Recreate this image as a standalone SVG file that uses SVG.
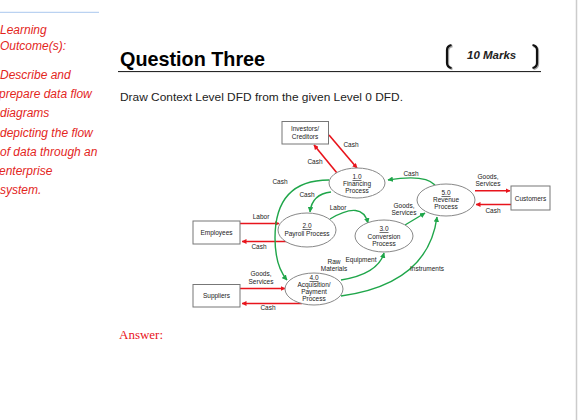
<svg xmlns="http://www.w3.org/2000/svg" width="578" height="420" viewBox="0 0 578 420">
<defs>
<marker id="ar" viewBox="0 0 10 10" refX="9" refY="5" markerWidth="5" markerHeight="5" orient="auto" markerUnits="userSpaceOnUse"><path d="M0,0 L10,5 L0,10 z" fill="#e8141c"/></marker>
<marker id="ag" viewBox="0 0 10 10" refX="9" refY="5" markerWidth="5.5" markerHeight="5.5" orient="auto" markerUnits="userSpaceOnUse"><path d="M0,0 L10,5 L0,10 z" fill="#1fa64a"/></marker>
</defs>
<style>
.side{font-family:"Liberation Sans",Arial,sans-serif;font-style:italic;font-size:12px;fill:#e3261d}
.lbl{font-family:"Liberation Sans",Arial,sans-serif;font-size:6.5px;fill:#222;text-anchor:middle}
.box{fill:#fff;stroke:#777;stroke-width:1}
.ell{fill:#fff;stroke:#888;stroke-width:1}
.red{fill:none;stroke:#e8141c;stroke-width:1.6;marker-end:url(#ar)}
.grn{fill:none;stroke:#1fa64a;stroke-width:1.4;marker-end:url(#ag)}
</style>
<rect width="578" height="420" fill="#fff"/>
<line x1="0" y1="12.3" x2="99" y2="12.3" stroke="#a9c7ee" stroke-width="1"/>
<line x1="576.5" y1="0" x2="576.5" y2="420" stroke="#cccccc" stroke-width="1.5"/>
<g id="sidebar">
<text class="side" x="0" y="33.5">Learning</text>
<text class="side" x="0" y="50">Outcome(s):</text>
<text class="side" x="0" y="79">Describe and</text>
<text class="side" x="-1" y="98">prepare data flow</text>
<text class="side" x="0" y="117">diagrams</text>
<text class="side" x="0" y="136.5">depicting the flow</text>
<text class="side" x="0" y="155.5">of data through an</text>
<text class="side" x="-1" y="175">enterprise</text>
<text class="side" x="0" y="194">system.</text>
</g>
<g id="header">
<text x="120" y="66" font-family="Liberation Sans,Arial,sans-serif" font-weight="bold" font-size="19.8">Question Three</text>
<line x1="118" y1="71.6" x2="541" y2="71.6" stroke="#111" stroke-width="1"/>
<path d="M451.5,45 Q447,46 447,50 L447,63 Q447,67 451.5,68" fill="none" stroke="#aaa" stroke-width="2.4" transform="translate(1,1)"/>
<path d="M451.5,45 Q447,46 447,50 L447,63 Q447,67 451.5,68" fill="none" stroke="#111" stroke-width="2.2"/>
<path d="M532.5,45 Q537,46 537,50 L537,63 Q537,67 532.5,68" fill="none" stroke="#aaa" stroke-width="2.4" transform="translate(1,1)"/>
<path d="M532.5,45 Q537,46 537,50 L537,63 Q537,67 532.5,68" fill="none" stroke="#111" stroke-width="2.2"/>
<text x="467" y="58.5" font-family="Liberation Sans,Arial,sans-serif" font-weight="bold" font-style="italic" font-size="11.5" fill="#222">10 Marks</text>
<text x="120" y="100.5" font-family="Liberation Sans,Arial,sans-serif" font-size="11.6" fill="#222" textLength="283" lengthAdjust="spacingAndGlyphs">Draw Context Level DFD from the given Level 0 DFD.</text>
</g>
<g id="connectors">
<line class="red" x1="329" y1="135" x2="357" y2="168"/>
<line class="red" x1="337" y1="173" x2="314" y2="145"/>
<line class="red" x1="475" y1="190.7" x2="510" y2="190.7"/>
<line class="red" x1="511" y1="204.5" x2="476" y2="204.5"/>
<line class="red" x1="240" y1="223.5" x2="279" y2="223.5"/>
<line class="red" x1="290" y1="241.5" x2="242" y2="241.5"/>
<line class="red" x1="240" y1="288.5" x2="285" y2="288.5"/>
<line class="red" x1="302" y1="303.5" x2="242" y2="303.5"/>
<path class="grn" d="M435,185 Q425,174 388,180"/>
<path class="grn" d="M405,225 L425,213"/>
<path class="grn" d="M331,192 Q312,194 310,212"/>
<path class="grn" d="M329,180 Q275,180 275,238 Q275,266 287,280"/>
<path class="grn" d="M330,219 Q362,200 368,223"/>
<path class="grn" d="M341,280 Q378,274 384,253"/>
<path class="grn" d="M341,296 Q428,284 437,217"/>
</g>
<g id="labels">
<text class="lbl" x="351" y="147">Cash</text>
<text class="lbl" x="315" y="164">Cash</text>
<text class="lbl" x="280" y="184">Cash</text>
<text class="lbl" x="307" y="197">Cash</text>
<text class="lbl" x="411" y="175.5">Cash</text>
<text class="lbl" x="488" y="179">Goods,</text>
<text class="lbl" x="488" y="186">Services</text>
<text class="lbl" x="493" y="213">Cash</text>
<text class="lbl" x="338" y="210">Labor</text>
<text class="lbl" x="404" y="208">Goods,</text>
<text class="lbl" x="404" y="215">Services</text>
<text class="lbl" x="261" y="219">Labor</text>
<text class="lbl" x="259" y="249">Cash</text>
<text class="lbl" x="334" y="264">Raw</text>
<text class="lbl" x="334" y="271">Materials</text>
<text class="lbl" x="361" y="262">Equipment</text>
<text class="lbl" x="427" y="271">Instruments</text>
<text class="lbl" x="261" y="276">Goods,</text>
<text class="lbl" x="261" y="283.5">Services</text>
<text class="lbl" x="268" y="310">Cash</text>
</g>
<g id="investors">
<rect class="box" x="282" y="121.5" width="46.5" height="22.5"/>
<text class="lbl" x="305" y="131">Investors/</text>
<text class="lbl" x="305" y="138.5">Creditors</text>
</g>
<g id="customers">
<rect class="box" x="511" y="186" width="39" height="24"/>
<text class="lbl" x="530.5" y="200.5">Customers</text>
</g>
<g id="employees">
<rect class="box" x="193" y="221" width="47" height="23"/>
<text class="lbl" x="216.5" y="235">Employees</text>
</g>
<g id="suppliers">
<rect class="box" x="193" y="284.5" width="47" height="22.5"/>
<text class="lbl" x="216.5" y="298">Suppliers</text>
</g>
<g id="p1">
<ellipse class="ell" cx="357" cy="183" rx="28" ry="15"/>
<text class="lbl" x="357" y="179" text-decoration="underline">1.0</text>
<text class="lbl" x="357" y="186">Financing</text>
<text class="lbl" x="357" y="193">Process</text>
</g>
<g id="p5">
<ellipse class="ell" cx="446" cy="200" rx="29" ry="16"/>
<text class="lbl" x="446" y="195" text-decoration="underline">5.0</text>
<text class="lbl" x="446" y="202">Revenue</text>
<text class="lbl" x="446" y="209">Process</text>
</g>
<g id="p3">
<ellipse class="ell" cx="384" cy="236" rx="29" ry="16"/>
<text class="lbl" x="384" y="231" text-decoration="underline">3.0</text>
<text class="lbl" x="384" y="238.5">Conversion</text>
<text class="lbl" x="384" y="246">Process</text>
</g>
<g id="p2">
<ellipse class="ell" cx="307" cy="230" rx="29" ry="17"/>
<text class="lbl" x="307" y="228" text-decoration="underline">2.0</text>
<text class="lbl" x="307" y="235.5">Payroll Process</text>
</g>
<g id="p4">
<ellipse class="ell" cx="314" cy="289" rx="29" ry="16"/>
<text class="lbl" x="314" y="280" text-decoration="underline">4.0</text>
<text class="lbl" x="314" y="287">Acquisition/</text>
<text class="lbl" x="314" y="294">Payment</text>
<text class="lbl" x="314" y="301">Process</text>
</g>
<text x="119" y="339" font-family="Liberation Serif,Times New Roman,serif" font-size="13" fill="#e8141c">Answer:</text>
</svg>
